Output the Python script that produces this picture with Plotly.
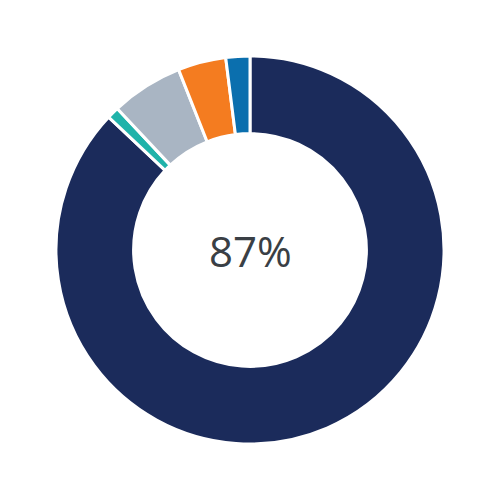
import plotly.graph_objects as go

labels = ["A", "B", "C", "D", "E"]
values = [87, 1, 6, 4, 2]
colors = ["#1b2b5b", "#20b3aa", "#a9b5c3", "#f47c20", "#0b6fae"]
center_text = "87%"

fig = go.Figure(go.Pie(
    labels=labels, values=values, hole=0.6, sort=False, direction="clockwise",
    rotation=0, textinfo="none", hoverinfo="none",
    marker=dict(colors=colors, line=dict(color="white", width=3)),
))
fig.update_layout(
    width=500, height=500, showlegend=False,
    margin=dict(l=48, r=64, t=48, b=64),
    paper_bgcolor="white", plot_bgcolor="white",
    annotations=[dict(text=center_text, x=0.5, y=0.5, xref="paper", yref="paper",
                      showarrow=False, font=dict(size=42, color="#3a3f45", family="Open Sans"))],
)
fig.write_html("out.html")
